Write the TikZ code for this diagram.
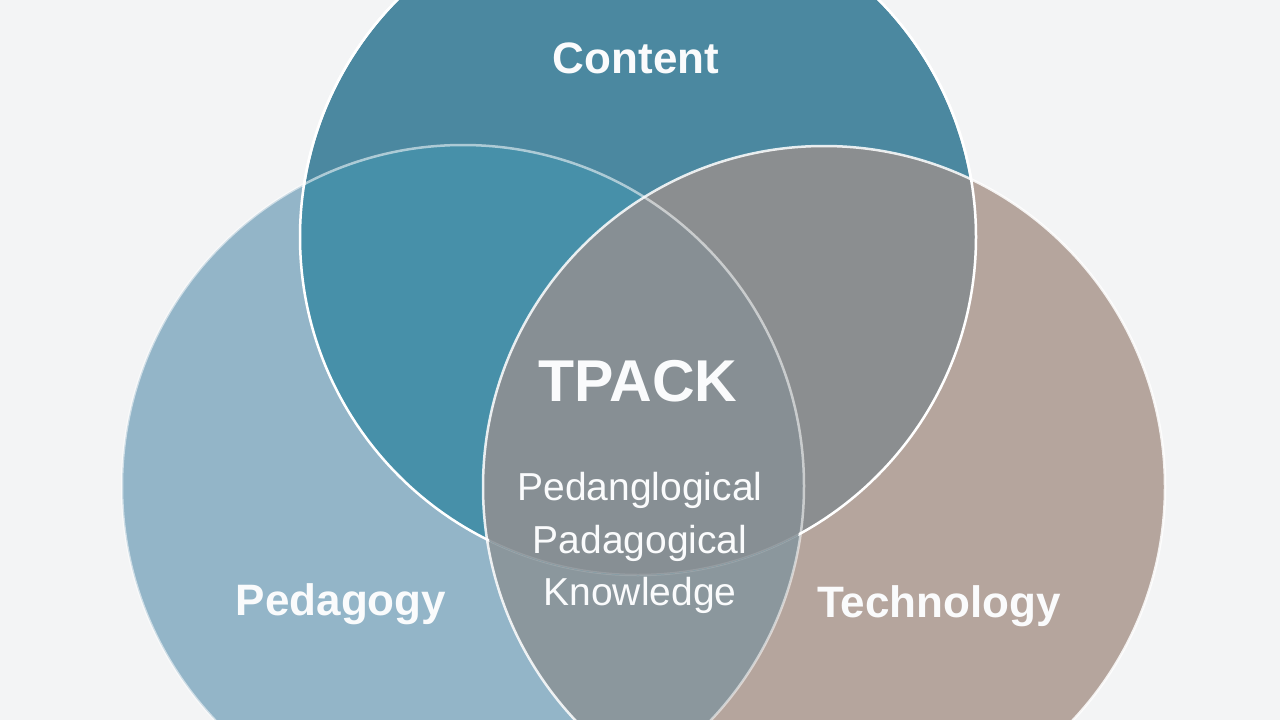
\documentclass[tikz,border=0pt]{standalone}
\usepackage{fontspec}
\setmainfont{Liberation Sans}
\definecolor{bg}{HTML}{F3F4F5}
\definecolor{cOnly}{HTML}{4B88A0}
\definecolor{pOnly}{HTML}{93B5C8}
\definecolor{tOnly}{HTML}{B5A59D}
\definecolor{cpCol}{HTML}{4790A9}
\definecolor{ctCol}{HTML}{8B8E90}
\definecolor{ptCol}{HTML}{8B979D}
\definecolor{cptCol}{HTML}{878F94}
\definecolor{labelcol}{HTML}{FAFBFC}
\tikzset{
  biglabel/.style={text=labelcol, font=\bfseries\fontsize{44}{48}\selectfont, inner sep=0pt},
  corelabel/.style={text=labelcol, font=\bfseries\fontsize{59}{63}\selectfont, inner sep=0pt},
  subtext/.style={text=labelcol, font=\fontsize{39}{53}\selectfont, align=center, inner sep=0pt},
  ring/.style={draw=white, line width=2.5pt}
}
\begin{document}
\begin{tikzpicture}[x=1pt,y=-1pt]
\useasboundingbox (0,0) rectangle (1280,720);
\clip (0,0) rectangle (1280,720);
\fill[bg] (0,0) rectangle (1280,720);
\coordinate (cC) at (638,237);
\coordinate (cP) at (463,486);
\coordinate (cT) at (824,487);
% base circles
\fill[pOnly] (cP) circle[radius=341pt];
\fill[tOnly] (cT) circle[radius=341pt];
\begin{scope}
  \clip (cP) circle[radius=341pt];
  \fill[ptCol] (cT) circle[radius=341pt];
\end{scope}
\fill[cOnly] (cC) circle[radius=338pt];
\begin{scope}
  \clip (cC) circle[radius=338pt];
  \fill[cpCol] (cP) circle[radius=341pt];
  \fill[ctCol] (cT) circle[radius=341pt];
  \clip (cP) circle[radius=341pt];
  \fill[cptCol] (cT) circle[radius=341pt];
\end{scope}
% outlines
\draw[ring, draw opacity=0.55] (cP) circle[radius=341pt];
\draw[ring, draw opacity=0.85] (cT) circle[radius=341pt];
% content outline: faint inside the P-T lens, strong elsewhere
\draw[ring, draw opacity=0.12] (cC) circle[radius=338pt];
\begin{scope}[even odd rule]
  \clip (-10,-10) rectangle (1290,730) (cP) circle[radius=339pt];
  \draw[ring] (cC) circle[radius=338pt];
\end{scope}
\begin{scope}[even odd rule]
  \clip (-10,-10) rectangle (1290,730) (cT) circle[radius=339pt];
  \draw[ring] (cC) circle[radius=338pt];
\end{scope}
% labels
\node[biglabel] (content) at (636,58) {Content};
\node[biglabel] (pedagogy) at (341,604) {Pedagogy};
\node[biglabel] (technology) at (939,606) {Technology};
\node[corelabel] (tpack) at (638,381) {TPACK};
\node[subtext] (l1) at (640,490) {Pedanglogical};
\node[subtext] (l2) at (640,543) {Padagogical};
\node[subtext] (l3) at (640,595) {Knowledge};
\end{tikzpicture}
\end{document}
